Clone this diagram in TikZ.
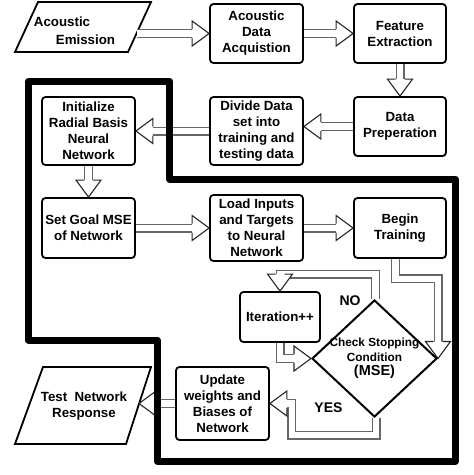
\documentclass[tikz,border=0pt]{standalone}
\usepackage{fontspec}
\setmainfont{Liberation Sans}
\usetikzlibrary{shapes.geometric,calc}
\definecolor{shaftgray}{gray}{0.4}
\newcommand\boxfont{\fontsize{13.3}{16}\selectfont\bfseries}
\tikzset{
  box/.style={draw, line width=1.8pt, rounded corners=3.5pt, align=center, inner sep=0pt, font=\boxfont},
  shaft/.style={draw=shaftgray, line width=1.1pt, double=white, double distance=6.8pt, line join=miter, shorten >=15pt},
  headline/.style={draw=black!85, line width=1.1pt, line join=miter},
  para/.style={draw, line width=1.8pt, line join=miter},
  frame/.style={line width=7pt, line join=round},
  lbl/.style={font=\fontsize{14}{16}\selectfont\bfseries, inner sep=0pt}
}
\newcommand\blkhead[2]{\begin{scope}[shift={(#1)}, rotate=#2]
  \fill[white] (-17,-12.5) -- (0,0) -- (-17,12.5) -- cycle;
  \draw[headline] (-17,-4.5) -- (-17,-12.5) -- (0,0) -- (-17,12.5) -- (-17,4.5);
\end{scope}}
\begin{document}
\begin{tikzpicture}[x=1pt, y=-1pt]
\useasboundingbox (0,0) rectangle (474,475);
\fill[white] (0,0) rectangle (474,475);

% parallelograms
\draw[para] (38,2) -- (151,2) -- (128,52) -- (15,52) -- cycle;
\node[align=left, inner sep=0pt, font=\fontsize{13.3}{18}\selectfont\bfseries] (ae) at (74.5,31) {Acoustic\\\hspace*{22pt}Emission};
\coordinate (aeout) at (137,33.5);

\draw[para] (43,367) -- (151,367) -- (126,444) -- (15,444) -- cycle;
\node[align=center, inner sep=0pt, font=\boxfont] (tn) at (84,406) {Test~ Network\\Response};
\coordinate (tnin) at (139,403.5);

% boxes
\node[box, minimum width=93pt, minimum height=59pt] (ada) at (256.5,33.5) {Acoustic\\Data\\Acquistion};
\node[box, minimum width=92pt, minimum height=59pt] (fe) at (400,33.5) {Feature\\Extraction};
\node[box, minimum width=92pt, minimum height=59pt] (dp) at (400,126.5) {Data\\Preperation};
\node[box, minimum width=93pt, minimum height=68pt] (dd) at (256.5,131) {Divide Data\\set into\\training and\\testing data};
\node[box, minimum width=93pt, minimum height=68pt] (ir) at (88.5,131) {Initialize\\Radial Basis\\Neural\\Network};
\node[box, minimum width=93pt, minimum height=60pt] (sg) at (88.5,228) {Set Goal MSE\\of Network};
\node[box, minimum width=93pt, minimum height=66pt] (li) at (256.5,228) {Load Inputs\\and Targets\\to Neural\\Network};
\node[box, minimum width=92pt, minimum height=60pt] (bt) at (400,228) {Begin\\Training};
\node[box, minimum width=80pt, minimum height=50pt] (it) at (280,317) {Iteration++};
\node[box, minimum width=93pt, minimum height=73pt] (up) at (222.5,403.5) {Update\\weights and\\Biases of\\Network};
\node[draw, diamond, line width=2pt, minimum width=125pt, minimum height=117pt, inner sep=0pt] (ck) at (374.5,358.5) {};
\node[align=center, inner sep=0pt, font=\fontsize{11.8}{14.5}\selectfont\bfseries] (cktext) at (374.5,358.5) {Check Stopping\\Condition\\{\fontsize{14.5}{14.5}\selectfont (MSE)}};

\node[lbl] (no) at (350,301) {NO};
\node[lbl] (yes) at (328.5,407.5) {YES};

% connectors
\coordinate (t4) at (dp.west -| dd.east);
\coordinate (cku) at ($(up.east)+(22,0)$);

\draw[shaft] (aeout) -- (ada.west);
\blkhead{ada.west}{0}
\draw[shaft] (ada.east) -- (fe.west);
\blkhead{fe.west}{0}
\draw[shaft] (fe.south) -- (dp.north);
\blkhead{dp.north}{-90}
\draw[shaft] (dp.west) -- (t4);
\blkhead{t4}{180}
\draw[shaft] (dd.west) -- (ir.east);
\blkhead{ir.east}{180}
\draw[shaft] (ir.south) -- (sg.north);
\blkhead{sg.north}{-90}
\draw[shaft] (sg.east) -- (li.west);
\blkhead{li.west}{0}
\draw[shaft] (li.east) -- (bt.west);
\blkhead{bt.west}{0}
\draw[shaft] ([xshift=-4.5pt]bt.south) -- ++(0,20) -| (ck.east);
\blkhead{ck.east}{-90}
\draw[shaft] ([xshift=1pt]ck.north) -- ++(0,-25) -| (it.north);
\blkhead{it.north}{-90}
\draw[shaft] (it.south) |- (ck.west);
\blkhead{ck.west}{0}
\draw[shaft] ([xshift=1.5pt]ck.south) -- ++(0,17) -| (cku) -- (up.east);
\blkhead{up.east}{180}
\draw[shaft] (up.west) -- (tnin);
\blkhead{tnin}{180}

% thick frame
\draw[frame] (28.5,81) -- (169.5,81) -- (169.5,179) -- (455,179) -- (455,461.5) -- (157.5,461.5) -- (157.5,340) -- (28.5,340) -- cycle;
\end{tikzpicture}
\end{document}
